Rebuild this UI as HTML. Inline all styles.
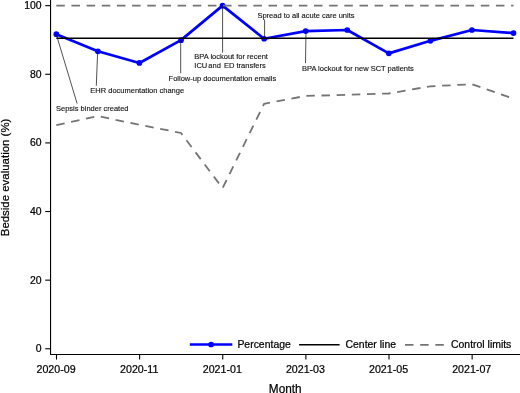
<!DOCTYPE html>
<html><head><meta charset="utf-8"><title>Chart</title>
<style>html,body{margin:0;padding:0;background:#fff}svg{display:block}</style></head>
<body>
<svg width="520" height="393" viewBox="0 0 520 393" font-family="&quot;Liberation Sans&quot;, sans-serif">
<rect width="520" height="393" fill="#fff"/>
<path d="M50.55 0V354.5" stroke="#000" stroke-width="1.1" fill="none"/>
<path d="M50.05 354.5H520" stroke="#000" stroke-width="1.1" fill="none"/>
<path d="M45.25 348.77H50.55" stroke="#000" stroke-width="1.1"/>
<text transform="translate(41.60 352.17) scale(1.045 1)" font-size="10.000" text-anchor="end" fill="#000" stroke="#000" stroke-width="0.22" xml:space="preserve">0</text>
<path d="M45.25 280.15H50.55" stroke="#000" stroke-width="1.1"/>
<text transform="translate(41.60 283.55) scale(1.045 1)" font-size="10.000" text-anchor="end" fill="#000" stroke="#000" stroke-width="0.22" xml:space="preserve">20</text>
<path d="M45.25 211.52H50.55" stroke="#000" stroke-width="1.1"/>
<text transform="translate(41.60 214.92) scale(1.045 1)" font-size="10.000" text-anchor="end" fill="#000" stroke="#000" stroke-width="0.22" xml:space="preserve">40</text>
<path d="M45.25 142.90H50.55" stroke="#000" stroke-width="1.1"/>
<text transform="translate(41.60 146.30) scale(1.045 1)" font-size="10.000" text-anchor="end" fill="#000" stroke="#000" stroke-width="0.22" xml:space="preserve">60</text>
<path d="M45.25 74.27H50.55" stroke="#000" stroke-width="1.1"/>
<text transform="translate(41.60 77.67) scale(1.045 1)" font-size="10.000" text-anchor="end" fill="#000" stroke="#000" stroke-width="0.22" xml:space="preserve">80</text>
<path d="M45.25 5.65H50.55" stroke="#000" stroke-width="1.1"/>
<text transform="translate(41.60 9.05) scale(1.045 1)" font-size="10.000" text-anchor="end" fill="#000" stroke="#000" stroke-width="0.22" xml:space="preserve">100</text>
<path d="M56.50 354.5V359.6" stroke="#000" stroke-width="1.1"/>
<text transform="translate(56.05 372.80) scale(1.045 1)" font-size="10.200" text-anchor="middle" fill="#000" stroke="#000" stroke-width="0.22" xml:space="preserve">2020-09</text>
<path d="M139.63 354.5V359.6" stroke="#000" stroke-width="1.1"/>
<text transform="translate(139.18 372.80) scale(1.045 1)" font-size="10.200" text-anchor="middle" fill="#000" stroke="#000" stroke-width="0.22" xml:space="preserve">2020-11</text>
<path d="M222.75 354.5V359.6" stroke="#000" stroke-width="1.1"/>
<text transform="translate(222.30 372.80) scale(1.045 1)" font-size="10.200" text-anchor="middle" fill="#000" stroke="#000" stroke-width="0.22" xml:space="preserve">2021-01</text>
<path d="M305.88 354.5V359.6" stroke="#000" stroke-width="1.1"/>
<text transform="translate(305.43 372.80) scale(1.045 1)" font-size="10.200" text-anchor="middle" fill="#000" stroke="#000" stroke-width="0.22" xml:space="preserve">2021-03</text>
<path d="M389.01 354.5V359.6" stroke="#000" stroke-width="1.1"/>
<text transform="translate(388.56 372.80) scale(1.045 1)" font-size="10.200" text-anchor="middle" fill="#000" stroke="#000" stroke-width="0.22" xml:space="preserve">2021-05</text>
<path d="M472.14 354.5V359.6" stroke="#000" stroke-width="1.1"/>
<text transform="translate(471.69 372.80) scale(1.045 1)" font-size="10.200" text-anchor="middle" fill="#000" stroke="#000" stroke-width="0.22" xml:space="preserve">2021-07</text>
<text transform="translate(285.2 393.0) scale(1 1.06)" font-size="11.8" text-anchor="middle" stroke="#000" stroke-width="0.22">Month</text>
<text transform="translate(8.75 177.45) rotate(-90) scale(1 1.03)" font-size="11.44" text-anchor="middle" stroke="#000" stroke-width="0.22">Bedside evaluation (%)</text>
<path d="M56.30 34.13 L97.86 51.28 L139.43 62.95 L180.99 40.13 L222.55 5.65 L264.12 38.76 L305.68 31.11 L347.25 30.01 L388.81 53.34 L430.37 40.82 L471.94 30.01 L513.50 33.10" stroke="#0000ff" stroke-width="2.7" fill="none" stroke-linejoin="round"/>
<circle cx="56.30" cy="34.13" r="2.85" fill="#0000ff"/>
<circle cx="97.86" cy="51.28" r="2.85" fill="#0000ff"/>
<circle cx="139.43" cy="62.95" r="2.85" fill="#0000ff"/>
<circle cx="180.99" cy="40.13" r="2.85" fill="#0000ff"/>
<circle cx="222.55" cy="5.65" r="2.85" fill="#0000ff"/>
<circle cx="264.12" cy="38.76" r="2.85" fill="#0000ff"/>
<circle cx="305.68" cy="31.11" r="2.85" fill="#0000ff"/>
<circle cx="347.25" cy="30.01" r="2.85" fill="#0000ff"/>
<circle cx="388.81" cy="53.34" r="2.85" fill="#0000ff"/>
<circle cx="430.37" cy="40.82" r="2.85" fill="#0000ff"/>
<circle cx="471.94" cy="30.01" r="2.85" fill="#0000ff"/>
<circle cx="513.50" cy="33.10" r="2.85" fill="#0000ff"/>
<path d="M56.30 5.65H513.50" stroke="#747474" stroke-width="1.8" stroke-dasharray="8.5 6.66" fill="none"/>
<path d="M56.30 125.06 L97.86 116.13 L139.43 124.71 L180.99 132.95 L222.55 188.19 L264.12 103.78 L305.68 95.89 L347.25 94.86 L388.81 93.49 L430.37 86.28 L471.94 84.22 L513.50 98.64" stroke="#747474" stroke-width="1.8" stroke-dasharray="8.5 6.66" fill="none"/>
<path d="M56.30 38.25H513.50" stroke="#000" stroke-width="1.6"/>
<path d="M56.50 35.13L77.1 103.5" stroke="#181818" stroke-width="0.75" fill="none"/>
<path d="M97.66 51.28L96.3 85.8" stroke="#181818" stroke-width="0.75" fill="none"/>
<path d="M180.7 40.13V73.3" stroke="#181818" stroke-width="0.75" fill="none"/>
<path d="M222.6 5.65V52.7" stroke="#181818" stroke-width="0.75" fill="none"/>
<path d="M264.6 38.76V19.5" stroke="#181818" stroke-width="0.75" fill="none"/>
<path d="M305.98 31.11L305.5 63.2" stroke="#181818" stroke-width="0.75" fill="none"/>
<text transform="translate(56.00 110.80) scale(1 1)" font-size="7.500" text-anchor="start" fill="#111" stroke="#111" stroke-width="0.12" xml:space="preserve">Sepsis binder created</text>
<text transform="translate(90.30 92.70) scale(1 1)" font-size="7.500" text-anchor="start" fill="#111" stroke="#111" stroke-width="0.12" xml:space="preserve">EHR documentation change</text>
<text transform="translate(168.60 80.50) scale(1 1)" font-size="7.500" text-anchor="start" fill="#111" stroke="#111" stroke-width="0.12" xml:space="preserve">Follow-up documentation emails</text>
<text transform="translate(194.30 59.40) scale(1 1)" font-size="7.500" text-anchor="start" fill="#111" stroke="#111" stroke-width="0.12" xml:space="preserve">BPA lockout for recent</text>
<text transform="translate(194.30 68.40) scale(1 1)" font-size="7.500" text-anchor="start" fill="#111" stroke="#111" stroke-width="0.12" xml:space="preserve">ICU</text>
<text transform="translate(208.30 68.40) scale(1 1)" font-size="7.500" text-anchor="start" fill="#111" stroke="#111" stroke-width="0.12" xml:space="preserve">and</text>
<text transform="translate(224.00 68.40) scale(1 1)" font-size="7.500" text-anchor="start" fill="#111" stroke="#111" stroke-width="0.12" xml:space="preserve">ED transfers</text>
<text transform="translate(257.40 17.70) scale(1 1)" font-size="7.500" text-anchor="start" fill="#111" stroke="#111" stroke-width="0.12" xml:space="preserve">Spread to all acute care units</text>
<text transform="translate(302.00 71.00) scale(1 1)" font-size="7.500" text-anchor="start" fill="#111" stroke="#111" stroke-width="0.12" xml:space="preserve">BPA lockout for new SCT patients</text>
<path d="M189.8 344.5H232.3" stroke="#0000ff" stroke-width="2.7"/>
<circle cx="211.1" cy="344.5" r="2.85" fill="#0000ff"/>
<text transform="translate(237.40 347.80) scale(1.045 1)" font-size="10.000" text-anchor="start" fill="#000" stroke="#000" stroke-width="0.22" xml:space="preserve">Percentage</text>
<path d="M299.1 344.75H339.6" stroke="#000" stroke-width="1.6"/>
<text transform="translate(345.50 347.80) scale(1.045 1)" font-size="10.000" text-anchor="start" fill="#000" stroke="#000" stroke-width="0.22" xml:space="preserve">Center line</text>
<path d="M405 344.8H446" stroke="#747474" stroke-width="1.8" stroke-dasharray="8.5 6.66" fill="none"/>
<text transform="translate(451.00 347.80) scale(1.045 1)" font-size="10.000" text-anchor="start" fill="#000" stroke="#000" stroke-width="0.22" xml:space="preserve">Control limits</text>
</svg>
</body></html>
